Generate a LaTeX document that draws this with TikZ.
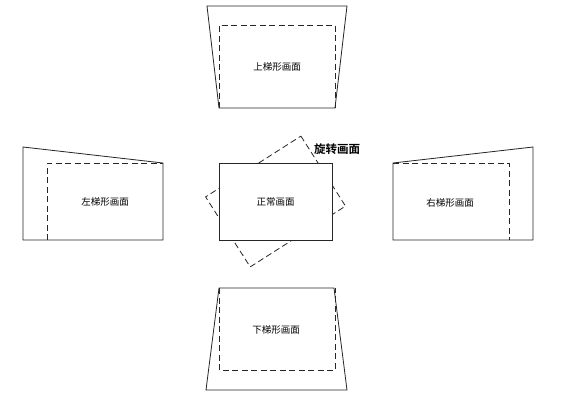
\documentclass[tikz,border=0pt]{standalone}
\usepackage{fontspec}
\newfontfamily\cjk{Noto Sans CJK SC}
\newfontfamily\cjkb{Noto Sans CJK SC Bold}
\begin{document}
\begin{tikzpicture}[x=1pt,y=-1pt,
  solidline/.style={draw=black!85,line width=0.8pt},
  dashline/.style={draw=black!85,line width=0.8pt,dash pattern=on 6pt off 3.5pt},
  lbl/.style={font=\cjk\fontsize{9.5}{11}\selectfont,inner sep=0pt}]
\useasboundingbox[fill=white] (0,0) rectangle (562,408);
% top trapezoid
\draw[solidline] (207,6) -- (347,6) -- (335,108) -- (219,108) -- cycle;
\draw[dashline] (219,108) -- (219,25) -- (335,25) -- (335,108);
\node[lbl] (top) at (277,67) {上梯形画面};
% left trapezoid
\draw[solidline] (23,147) -- (163,163) -- (163,240) -- (23,240) -- cycle;
\draw[dashline] (47,240) -- (47,163) -- (163,163);
\node[lbl] (left) at (105,202) {左梯形画面};
% right trapezoid
\draw[solidline] (393,163) -- (533,147) -- (533,240) -- (393,240) -- cycle;
\draw[dashline] (393,163) -- (509,163) -- (509,240);
\node[lbl] (right) at (450,203) {右梯形画面};
% bottom trapezoid
\draw[solidline] (219,288) -- (334,288) -- (347,390) -- (206,390) -- cycle;
\draw[dashline] (219,288) -- (219,370) -- (335,370) -- (335,288);
\node[lbl] (bottom) at (276,330) {下梯形画面};
% rotated
\draw[dashline] (300.9,136.1) -- (345.5,206.1) -- (250.2,266.9) -- (205.6,196.9) -- cycle;
\draw[solidline,fill=white] (219,163) rectangle (332,240);
\node[lbl] (center) at (275.5,202) {正常画面};
\node[font=\cjkb\fontsize{11.5}{13}\selectfont,inner sep=0pt] (rot) at (337,149) {旋转画面};
\end{tikzpicture}
\end{document}
